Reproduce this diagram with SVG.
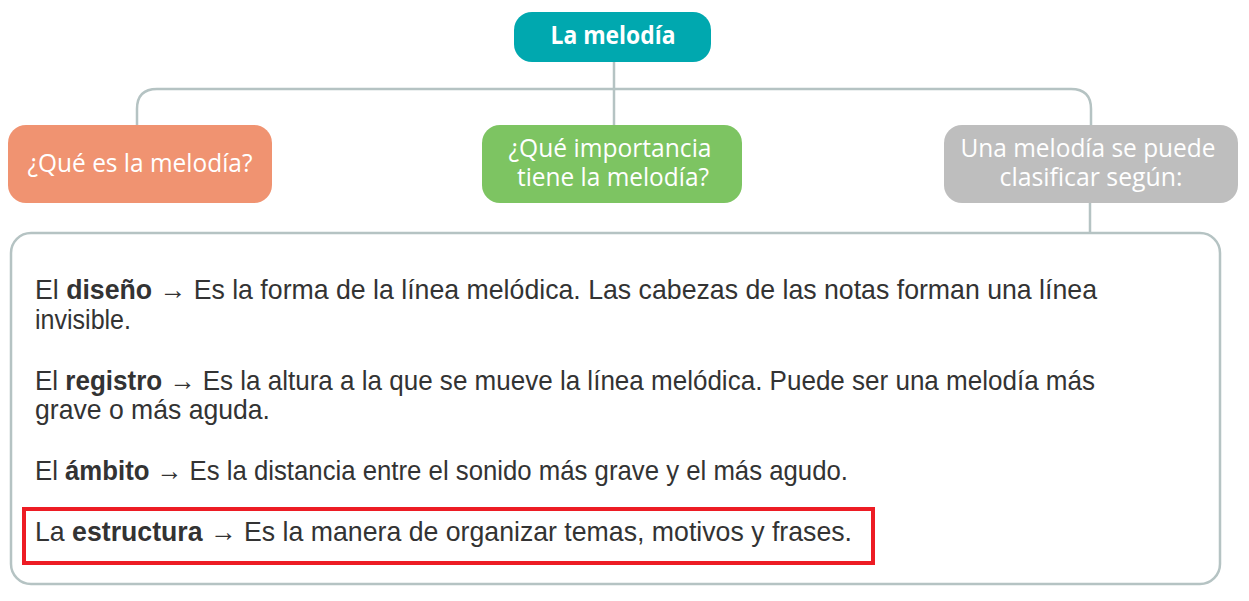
<svg xmlns="http://www.w3.org/2000/svg" width="1249" height="601" viewBox="0 0 1249 601">
<style>
.conn{fill:none;stroke:#B5C3C3;stroke-width:2.5}
.nt{font-family:"Open Sans","Noto Sans",sans-serif;font-size:25px;fill:#ffffff;text-anchor:middle}
.ct{font-family:"Liberation Sans",Arial,sans-serif;font-size:27.5px;fill:#333333}
.ct tspan.b{font-weight:bold}
</style>
<rect width="1249" height="601" fill="#ffffff"/>
<g id="connectors">
<path class="conn" d="M614 62 V89"/>
<path class="conn" d="M137 125 V109 Q137 89 157 89 H1071 Q1091 89 1091 109 V125"/>
<path class="conn" d="M614 89 V125"/>
<path class="conn" d="M1090 203 V233"/>
</g>
<g id="node-root">
<rect x="514" y="12" width="197" height="50" rx="18" fill="#00A8AF"/>
<text class="nt" x="613" y="44" font-weight="bold" textLength="125" lengthAdjust="spacingAndGlyphs">La melodía</text>
</g>
<g id="node-que-es">
<rect x="8" y="125" width="264" height="78" rx="18" fill="#F09371"/>
<text class="nt" x="140" y="172" textLength="225" lengthAdjust="spacingAndGlyphs">¿Qué es la melodía?</text>
</g>
<g id="node-importancia">
<rect x="482" y="125" width="260" height="78" rx="18" fill="#7DC462"/>
<text class="nt" x="610" y="157" textLength="203" lengthAdjust="spacingAndGlyphs">¿Qué importancia</text>
<text class="nt" x="613" y="186" textLength="192" lengthAdjust="spacingAndGlyphs">tiene la melodía?</text>
</g>
<g id="node-clasificar">
<rect x="944" y="125" width="294" height="78" rx="18" fill="#BEBEBE"/>
<text class="nt" x="1088" y="157" textLength="255" lengthAdjust="spacingAndGlyphs">Una melodía se puede</text>
<text class="nt" x="1091" y="186" textLength="183" lengthAdjust="spacingAndGlyphs">clasificar según:</text>
</g>
<g id="node-contenido">
<rect x="11" y="233" width="1209" height="351" rx="20" fill="#ffffff" stroke="#B5C3C3" stroke-width="2.5"/>
<text class="ct" x="35" y="299" textLength="1062" lengthAdjust="spacingAndGlyphs">El <tspan class="b">diseño</tspan> → Es la forma de la línea melódica. Las cabezas de las notas forman una línea</text>
<text class="ct" x="35" y="329" textLength="96" lengthAdjust="spacingAndGlyphs">invisible.</text>
<text class="ct" x="35" y="390" textLength="1060" lengthAdjust="spacingAndGlyphs">El <tspan class="b">registro</tspan> → Es la altura a la que se mueve la línea melódica. Puede ser una melodía más</text>
<text class="ct" x="35" y="419" textLength="235" lengthAdjust="spacingAndGlyphs">grave o más aguda.</text>
<text class="ct" x="35" y="480" textLength="813" lengthAdjust="spacingAndGlyphs">El <tspan class="b">ámbito</tspan> → Es la distancia entre el sonido más grave y el más agudo.</text>
<rect x="24" y="509" width="849" height="54" fill="none" stroke="#ED1C24" stroke-width="4"/>
<text class="ct" x="35" y="541" textLength="817" lengthAdjust="spacingAndGlyphs">La <tspan class="b">estructura</tspan> → Es la manera de organizar temas, motivos y frases.</text>
</g>
</svg>
